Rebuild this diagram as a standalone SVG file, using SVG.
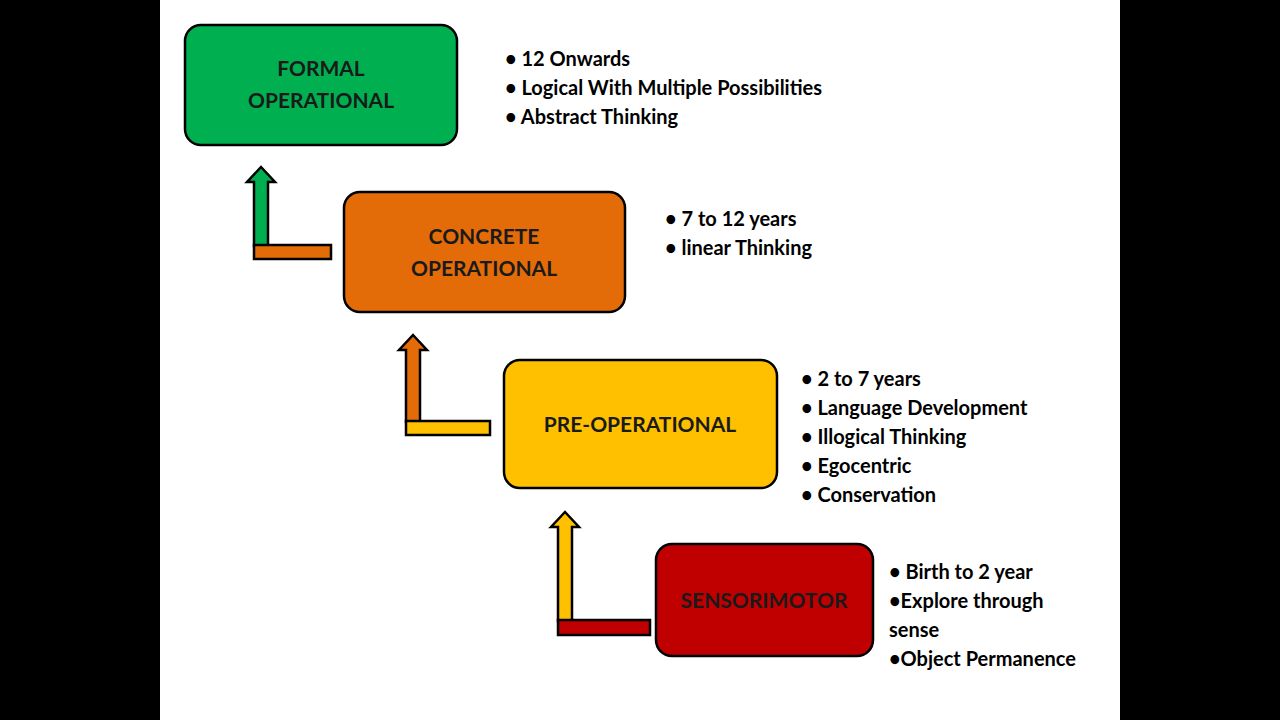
<svg xmlns="http://www.w3.org/2000/svg" width="1280" height="720" viewBox="0 0 1280 720">
<style>
.box{stroke:#000;stroke-width:2.5}
.t{font-family:Lato,"Open Sans",sans-serif;font-weight:bold;font-size:21px;fill:#1a1a1a;text-anchor:middle}
.b{font-family:Lato,"Open Sans",sans-serif;font-weight:bold;font-size:20px;fill:#000}
.c{stroke:#000;stroke-width:2.5}
</style>
<rect width="1280" height="720" fill="#fff"/>
<rect x="0" y="0" width="160" height="720" fill="#000"/>
<rect x="1120" y="0" width="160" height="720" fill="#000"/>
<g id="connectors">
<polygon class="c" fill="#00b050" points="254,246 254,182 247,182 261,167 275,182 268,182 268,246"/>
<rect class="c" fill="#e36c09" x="254" y="245" width="77" height="14"/>
<polygon class="c" fill="#e36c09" points="406,422 406,350 399,350 413,335 427,350 420,350 420,422"/>
<rect class="c" fill="#ffc000" x="406" y="421" width="84" height="14"/>
<polygon class="c" fill="#ffc000" points="558,621 558,527 551,527 565,512 579,527 572,527 572,621"/>
<rect class="c" fill="#c00000" x="558" y="620" width="92" height="15"/>
</g>
<g id="formal">
<rect class="box" fill="#00b050" x="185" y="25" width="272" height="120" rx="16"/>
<text class="t" x="321" y="76">FORMAL</text>
<text class="t" x="321" y="108">OPERATIONAL</text>
<text class="b" x="505" y="66">• 12 Onwards</text>
<text class="b" x="505" y="95">• Logical With Multiple Possibilities</text>
<text class="b" x="505" y="124">• Abstract Thinking</text>
</g>
<g id="concrete">
<rect class="box" fill="#e36c09" x="344" y="192" width="281" height="120" rx="16"/>
<text class="t" x="484" y="244">CONCRETE</text>
<text class="t" x="484" y="276">OPERATIONAL</text>
<text class="b" x="665" y="226">• 7 to 12 years</text>
<text class="b" x="665" y="255">•  linear Thinking</text>
</g>
<g id="preop">
<rect class="box" fill="#ffc000" x="504" y="360" width="273" height="128" rx="16"/>
<text class="t" x="640" y="432">PRE-OPERATIONAL</text>
<text class="b" x="801" y="386">• 2 to 7 years</text>
<text class="b" x="801" y="415">• Language Development</text>
<text class="b" x="801" y="444">• Illogical Thinking</text>
<text class="b" x="801" y="473">• Egocentric</text>
<text class="b" x="801" y="502">• Conservation</text>
</g>
<g id="sensorimotor">
<rect class="box" fill="#c00000" x="656" y="544" width="217" height="112" rx="16"/>
<text class="t" x="764" y="608">SENSORIMOTOR</text>
<text class="b" x="889" y="579">• Birth to 2 year</text>
<text class="b" x="889" y="608">•Explore through</text>
<text class="b" x="889" y="637">sense</text>
<text class="b" x="889" y="666">•Object Permanence</text>
</g>
</svg>
